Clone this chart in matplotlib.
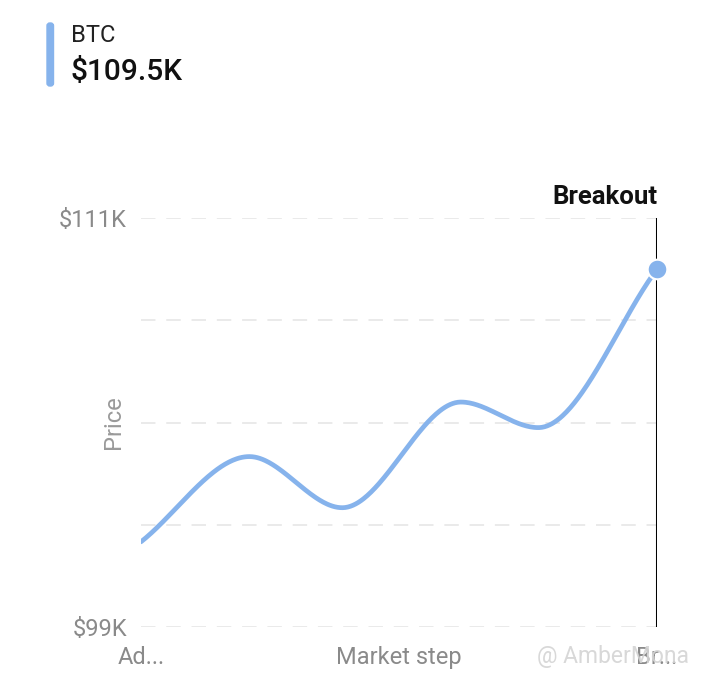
import numpy as np
import matplotlib.pyplot as plt
from matplotlib.patches import FancyBboxPatch

plt.rcParams['font.family'] = ['Roboto', 'DejaVu Sans']

# data
step = [0, 2.1, 3.9, 6.2, 7.7, 10]
price = [101.5, 104.0, 102.5, 105.6, 104.85, 109.5]
tick_pos = [0, 5, 10]
tick_lab = ["Ad...", "Market step", "Br..."]
y_ticks = [99, 102, 105, 108, 111]
y_labels = ["$99K", "", "", "", "$111K"]
line_col = "#86b3ec"


def pchip(x, y, n=400):
    # monotone cubic, just for the smooth look of the line
    x = np.asarray(x, float)
    y = np.asarray(y, float)
    h = np.diff(x)
    d = np.diff(y) / h
    m = np.zeros_like(y)
    for k in range(1, len(x) - 1):
        if d[k - 1] * d[k] > 0:
            w1 = 2 * h[k] + h[k - 1]
            w2 = h[k] + 2 * h[k - 1]
            m[k] = (w1 + w2) / (w1 / d[k - 1] + w2 / d[k])
    m[0] = d[0]
    m[-1] = d[-1]
    xs = np.linspace(x[0], x[-1], n)
    idx = np.clip(np.searchsorted(x, xs) - 1, 0, len(h) - 1)
    t = (xs - x[idx]) / h[idx]
    h00 = 2 * t**3 - 3 * t**2 + 1
    h10 = t**3 - 2 * t**2 + t
    h01 = -2 * t**3 + 3 * t**2
    h11 = t**3 - t**2
    ys = h00 * y[idx] + h10 * h[idx] * m[idx] + h01 * y[idx + 1] + h11 * h[idx] * m[idx + 1]
    return xs, ys


fig = plt.figure(figsize=(7.19, 6.82), dpi=100)
ax = fig.add_axes([141 / 719, 1 - 627 / 682, 516 / 719, 409 / 682])

for v in y_ticks:
    ax.axhline(v, color="#e8e8e8", lw=1.3, ls=(0, (8, 6)), zorder=0)

xs, ys = pchip(step, price)
ax.plot(xs, ys, color=line_col, lw=3.4, solid_capstyle="round", zorder=3)
ax.axvline(step[-1], color="black", lw=2.2, zorder=2)
ax.scatter([step[-1]], [price[-1]], s=200, color=line_col, edgecolor="white",
           linewidth=1.5, zorder=4, clip_on=False)
ax.text(step[-1], 111.25, "Breakout", ha="right", va="bottom", fontsize=18.5,
        fontweight="bold", color="#111111")

ax.set_xlim(step[0], step[-1])
ax.set_ylim(99, 111)
ax.set_yticks(y_ticks)
ax.set_yticklabels(y_labels)
ax.set_xticks(tick_pos)
ax.set_xticklabels(tick_lab)
ax.tick_params(length=0, labelsize=17, labelcolor="#8a8a8a", pad=10)
ax.tick_params(axis="x", pad=14)
for s in ax.spines.values():
    s.set_visible(False)
ax.set_ylabel("Price", fontsize=17, color="#9a9a9a")
ax.yaxis.set_label_coords((125 - 141) / 516, 0.5)

# header
fig.patches.append(FancyBboxPatch((47 / 719, 1 - 86 / 682), 6.5 / 719, 63 / 682,
                                  boxstyle="round,pad=0,rounding_size=0.004",
                                  transform=fig.transFigure, color=line_col))
fig.text(71 / 719, 1 - 36 / 682, "BTC", fontsize=17, color="#222222", va="center")
fig.text(71 / 719, 1 - 72 / 682, "$109.5K", fontsize=21.5, color="#111111",
         fontweight="medium", va="center")

# watermark
fig.text(537 / 719, 1 - 657 / 682, "@ AmberMona", fontsize=16.5, color="#d4d4d4",
         va="center", alpha=0.9)

fig.savefig("out.png", dpi=100, facecolor="white")
